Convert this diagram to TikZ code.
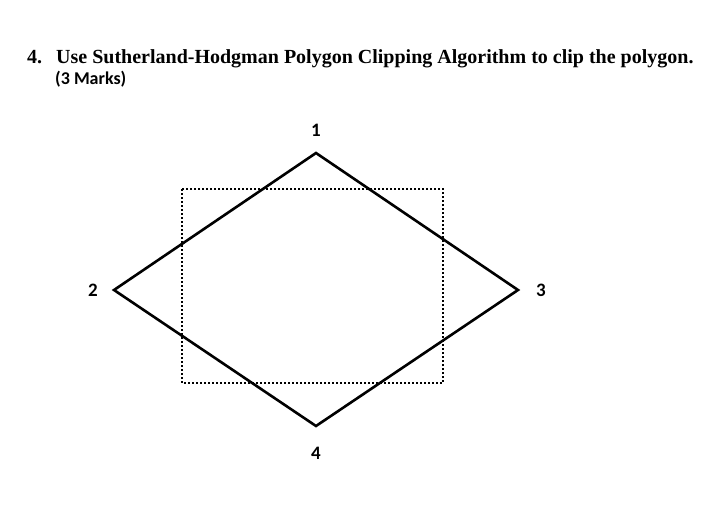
\documentclass[tikz,border=0pt]{standalone}
\usepackage{fontspec}
\setmainfont{Liberation Serif}
\newfontfamily\calibri{Carlito}
\usepackage{tikz}

\tikzset{
    vlabel/.style={font=\calibri\bfseries\fontsize{19}{21}\selectfont},
    qtext/.style={anchor=base west, inner sep=0pt, font=\bfseries\fontsize{20}{22}\selectfont},
    poly/.style={black, line width=2.6pt, line join=miter},
    window/.style={black, line width=2pt, dotted}
}

\begin{document}
\begin{tikzpicture}[x=1pt,y=-1pt]
        \useasboundingbox (0,0) rectangle (715,516);
        % question text
        \node[qtext] (num) at (27,64) {4.};
        \node[qtext] (title) at (56,64) {Use Sutherland-Hodgman Polygon Clipping Algorithm to clip the polygon.};
        \node[anchor=base west, inner sep=0pt, font=\calibri\bfseries\fontsize{18}{20}\selectfont] (marks) at (55,85) {(3 Marks)};
        % clipping window
        \coordinate (w1) at (182,189);
        \coordinate (w2) at (443,383);
        \draw[window] (w1) rectangle (w2);
        % polygon vertices
        \coordinate (v1) at (316,153);
        \coordinate (v2) at (114,290);
        \coordinate (v3) at (518,290);
        \coordinate (v4) at (316,426);
        \draw[poly] (v1) -- (v3) -- (v4) -- (v2) -- cycle;
        \node[vlabel] (l1) at (316,130) {1};
        \node[vlabel] (l2) at (93,290) {2};
        \node[vlabel] (l3) at (541,290) {3};
        \node[vlabel] (l4) at (316,453) {4};
    \end{tikzpicture}
\end{document}
